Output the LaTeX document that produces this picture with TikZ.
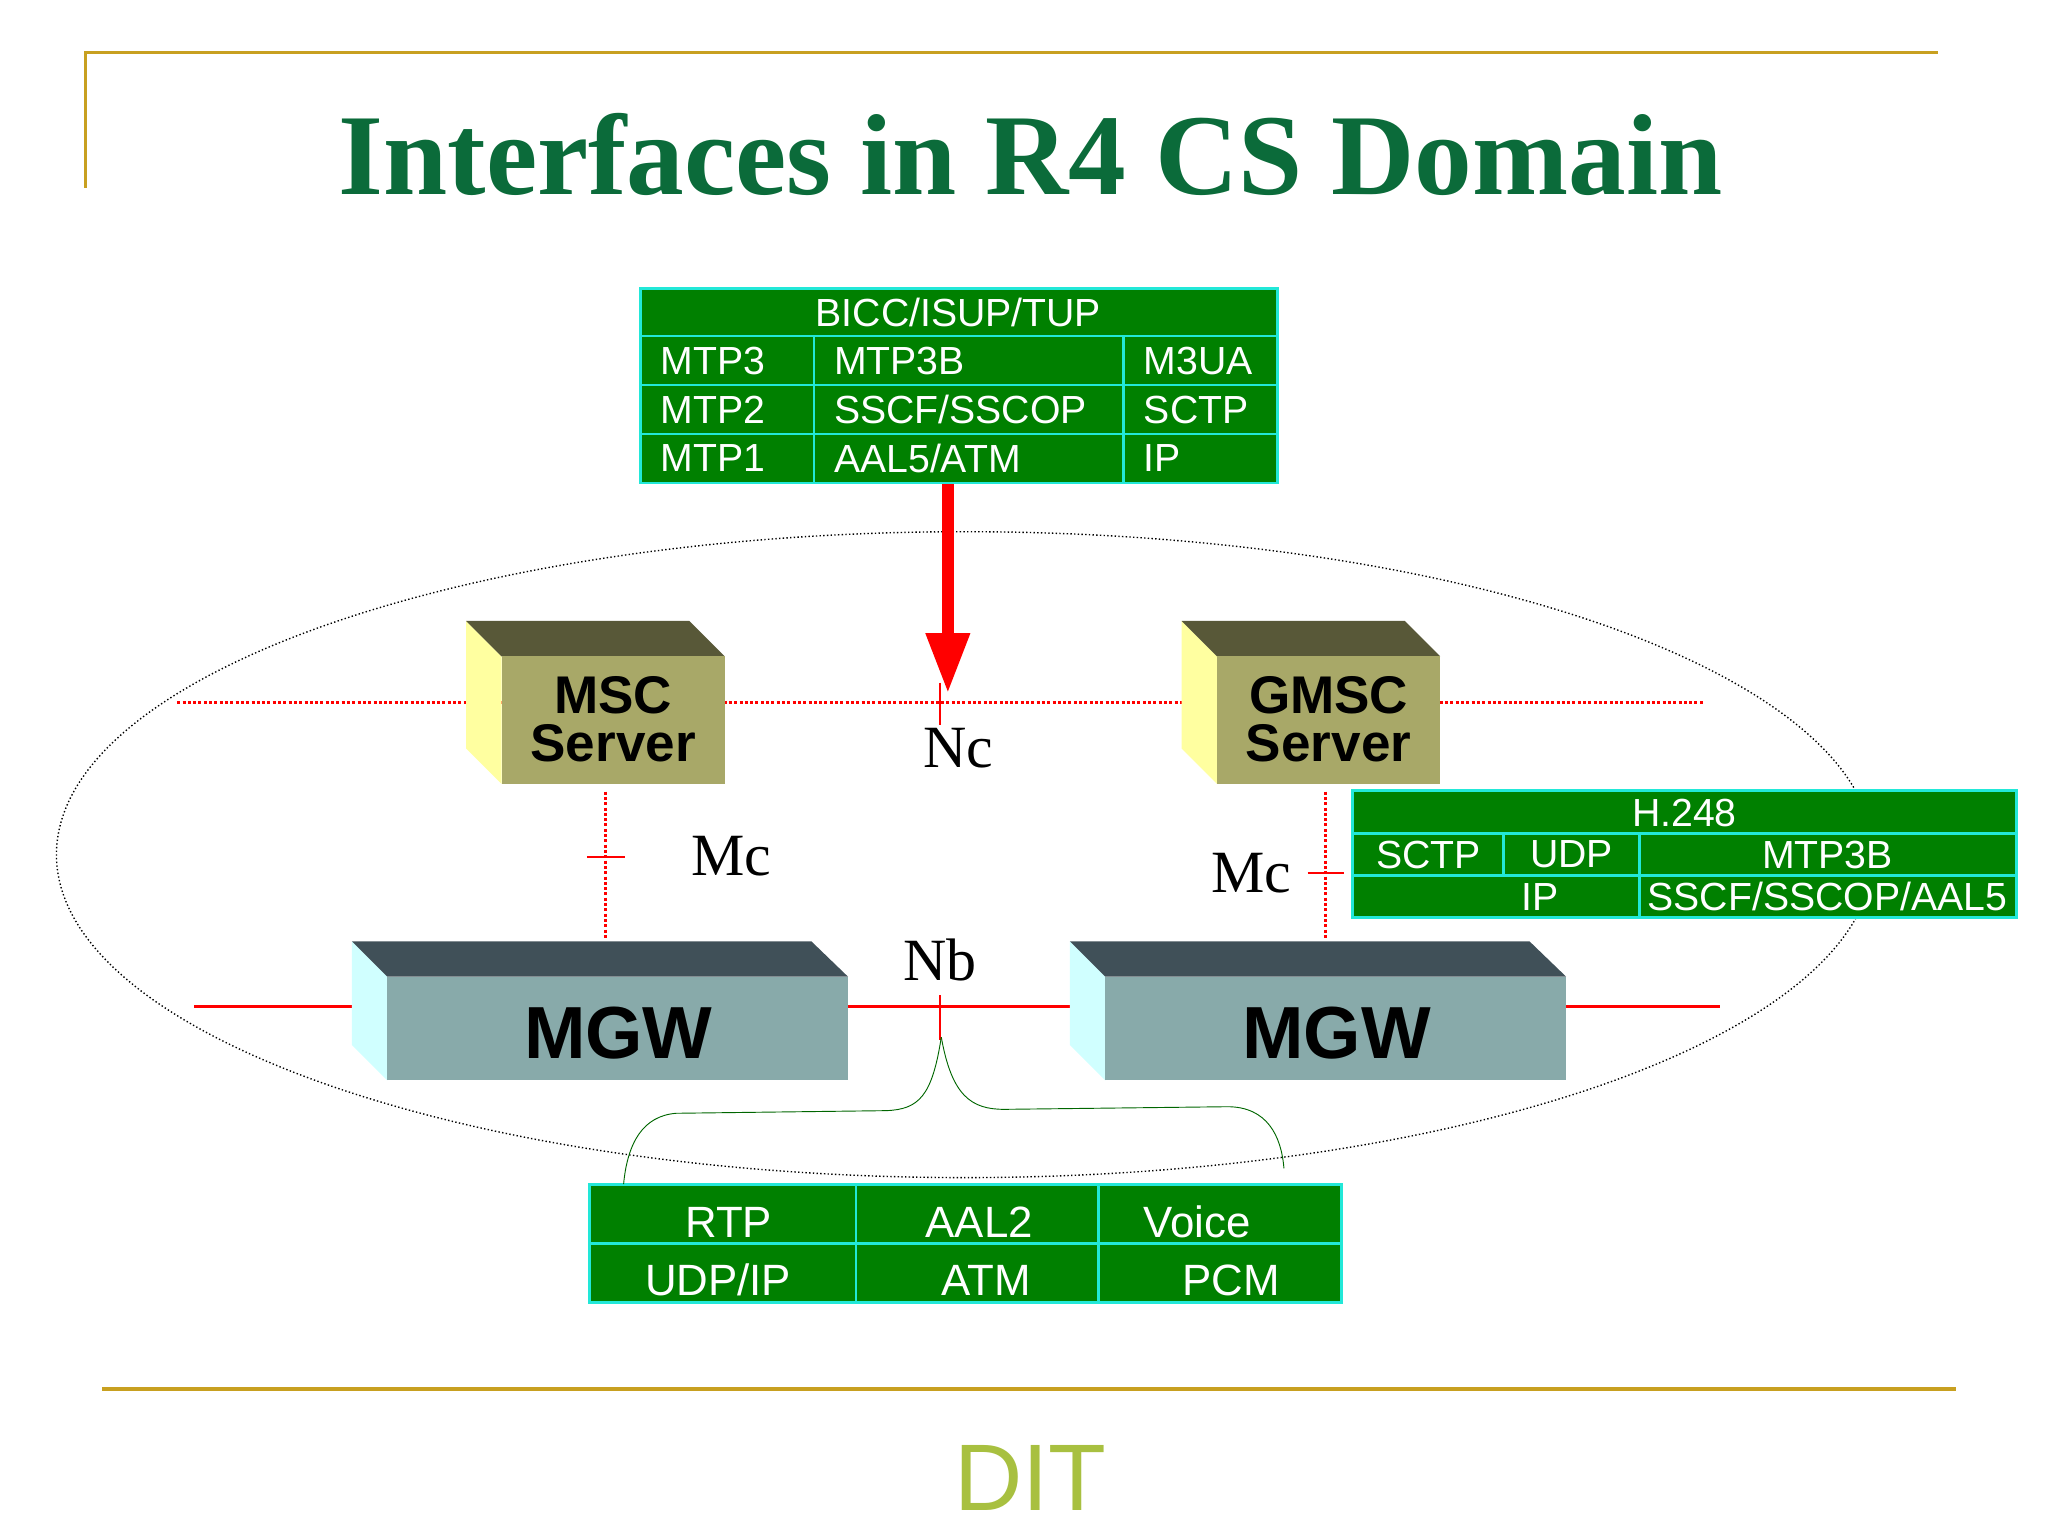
\documentclass[tikz,border=0pt]{standalone}
\usepackage{fontspec}
\setmainfont{Liberation Serif}
\newfontfamily\sansf{Liberation Sans}
\usetikzlibrary{arrows.meta}
\definecolor{gold}{HTML}{C8A020}
\definecolor{titlegreen}{HTML}{0B6B3A}
\definecolor{tabgreen}{HTML}{008000}
\definecolor{tabline}{HTML}{22E8D8}
\definecolor{ditgreen}{HTML}{A8C040}
\tikzset{
    cell/.style = {fill=tabgreen, draw=tabline, line width=1.2pt},
    celltext/.style = {text=white, font=\sansf\fontsize{17}{19}\selectfont, inner sep=0pt},
    iface/.style = {font=\fontsize{26}{28}\selectfont},
    boxtext/.style = {font=\sansf\bfseries\fontsize{23}{24}\selectfont, align=center},
    sig/.style = {red, densely dotted, line width=1.3pt},
    tick/.style = {red, line width=0.8pt}
}
\begin{document}
\begin{tikzpicture}[x=0.02cm, y=-0.02cm]
        \useasboundingbox (0,0) rectangle (1560,1170);
        % frame lines and title
        \draw[gold, line width=1.5pt] (65,143) -- (65,40) -- (1476,40);
        \draw[gold, line width=1.5pt] (78,1058) -- (1490,1058);
        \node[titlegreen, font=\bfseries\fontsize{50}{52}\selectfont] (title) at (785,118) {Interfaces in R4 CS Domain};
        \node[ditgreen, font=\sansf\fontsize{41}{43}\selectfont] (dit) at (785,1126) {DIT};
        % domain ellipse and signalling lines
        \draw[densely dotted, line width=0.6pt] (735,651) ellipse (692 and 246);
        \draw[sig] (135,535) -- (1297,535);
        \draw[red, line width=1.3pt] (148,767) -- (1310,767);
        % server boxes
        \foreach \x/\n/\t in {355/msc/MSC, 900/gmsc/GMSC}{
            \fill[fill={rgb,255:red,255;green,255;blue,160}] (\x,473) -- (\x+27,500) -- (\x+27,597) -- (\x,570) -- cycle;
            \fill[fill={rgb,255:red,88;green,88;blue,56}] (\x,473) -- (\x+170,473) -- (\x+197,500) -- (\x+27,500) -- cycle;
            \fill[fill={rgb,255:red,168;green,168;blue,104}] (\x+27,500) rectangle (\x+197,597);
            \node[boxtext] (\n) at (\x+112,548) {\t\\[-3pt]Server};
        }
        % media gateway boxes
        \foreach \x/\n in {268/mgwl, 815/mgwr}{
            \fill[fill={rgb,255:red,208;green,255;blue,255}] (\x,717) -- (\x+27,744) -- (\x+27,823) -- (\x,796) -- cycle;
            \fill[fill={rgb,255:red,64;green,80;blue,88}] (\x,717) -- (\x+350,717) -- (\x+378,744) -- (\x+27,744) -- cycle;
            \fill[fill={rgb,255:red,136;green,170;blue,170}] (\x+27,744) rectangle (\x+378,823);
            \node[font=\sansf\bfseries\fontsize{32}{34}\selectfont] (\n) at (\x+203,787) {MGW};
        }
        % Mc links
        \draw[sig] (461,603) -- (461,715);
        \draw[sig] (1010,603) -- (1010,715);
        \draw[tick] (447,653) -- (476,653);
        \draw[tick] (996,665) -- (1024,665);
        \node[iface] (mcl) at (557,652) {Mc};
        \node[iface] (mcr) at (953,665) {Mc};
        % Nc and Nb labels
        \draw[tick] (716,520) -- (716,552);
        \draw[tick] (716,758) -- (716,792);
        \node[iface] (nc) at (730,570) {Nc};
        \node[iface] (nb) at (716,731) {Nb};
        % top table (Nc stack)
        \draw[cell] (488,220) rectangle (973,256);
        \node[celltext] at (730,238) {BICC/ISUP/TUP};
        \foreach \r/\a/\b/\c [count=\i from 0] in {0/MTP3/MTP3B/M3UA, 1/MTP2/SSCF\slash SSCOP/SCTP, 2/MTP1/AAL5\slash ATM/IP}{
            \pgfmathsetmacro\ya{256+37.3*\i}
            \pgfmathsetmacro\yb{256+37.3*(\i+1)}
            \draw[cell] (488,\ya) rectangle (620,\yb);
            \draw[cell] (620,\ya) rectangle (856,\yb);
            \draw[cell] (856,\ya) rectangle (973,\yb);
            \node[celltext, anchor=west] at (503,{(\ya+\yb)/2}) {\a};
            \node[celltext, anchor=west] at (635,{(\ya+\yb)/2}) {\b};
            \node[celltext, anchor=west] at (871,{(\ya+\yb)/2}) {\c};
        }
        \coordinate (arrowtip) at (722,528);
        \draw[red, line width=5pt, -{Triangle[length=26pt, width=18pt]}] (722,369) -- (arrowtip);
        % H.248 table (Mc stack)
        \draw[cell] (1030,602) rectangle (1536,635);
        \node[celltext] at (1283,619) {H.248};
        \draw[cell] (1030,635) rectangle (1145,667);
        \draw[cell] (1145,635) rectangle (1249,667);
        \draw[cell] (1249,635) rectangle (1536,667);
        \draw[cell] (1030,667) rectangle (1249,699);
        \draw[cell] (1249,667) rectangle (1536,699);
        \node[celltext] at (1088,651) {SCTP};
        \node[celltext] at (1197,651) {UDP};
        \node[celltext] at (1392,651) {MTP3B};
        \node[celltext] at (1173,683) {IP};
        \node[celltext] at (1392,683) {SSCF/SSCOP/AAL5};
        % bottom table (Nb stack)
        \foreach \xa/\xb/\ta/\tb/\xt/\xu in {449/652/RTP/UDP\slash IP/555/547, 652/837/AAL2/ATM/746/751, 837/1022/Voice/PCM/912/938}{
            \draw[cell] (\xa,902) rectangle (\xb,947);
            \draw[cell] (\xa,947) rectangle (\xb,992);
            \node[celltext, font=\sansf\fontsize{19}{21}\selectfont] at (\xt,931) {\ta};
            \node[celltext, font=\sansf\fontsize{19}{21}\selectfont] at (\xu,975) {\tb};
        }
        % Nb brace
        \coordinate (nbfoot) at (717,790);
        \draw[green!40!black, thin] (nbfoot) .. controls (710,835) and (700,845) .. (675,846) -- (515,848) .. controls (490,850) and (478,870) .. (475,902);
        \draw[green!40!black, thin] (nbfoot) .. controls (725,835) and (740,845) .. (765,845) -- (935,843) .. controls (965,843) and (976,865) .. (978,890);
\end{tikzpicture}
\end{document}
